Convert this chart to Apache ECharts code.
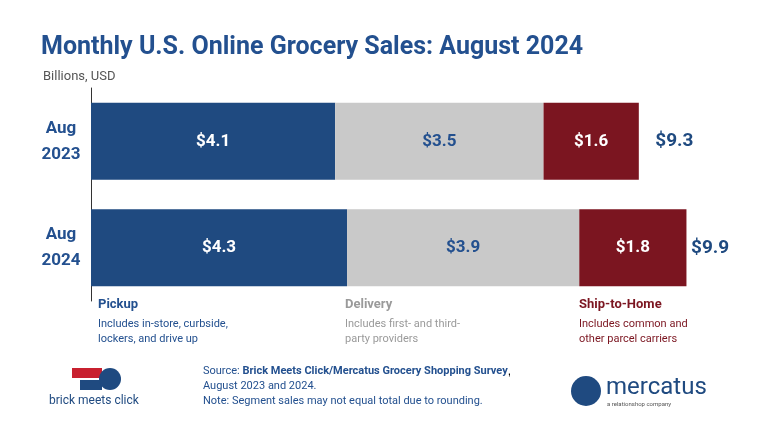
<!DOCTYPE html>
<html><head><meta charset="utf-8">
<script src="https://cdn.jsdelivr.net/npm/echarts@6/dist/echarts.min.js"></script>
<style>html,body{margin:0;padding:0;background:#fff}#c{width:768px;height:432px}</style>
</head><body><div id="c"></div>
<script>
const categories = ['Aug\n2023', 'Aug\n2024'];
const pickup = [4.1, 4.3];
const delivery = [3.5, 3.9];
const shipToHome = [1.6, 1.8];
const totals = [9.3, 9.9];

const BLUE = '#1f4a80', GRAY = '#c9c9c9', RED = '#7b1520', TBLUE = '#23508f';
const F = 'Roboto';
const chart = echarts.init(document.getElementById('c'));
const lbl = (c) => ({show: true, position: 'inside', color: c, fontFamily: F, fontWeight: 'bold', fontSize: 17, formatter: p => '$' + p.value.toFixed(1)});
chart.setOption({
  animation: false,
  textStyle: {fontFamily: F},
  title: [{text: 'Monthly U.S. Online Grocery Sales: August 2024', left: 36, top: 30, textStyle: {color: TBLUE, fontSize: 25, fontWeight: 'bold', fontFamily: F}},
          {text: 'Billions, USD', left: 38, top: 65, textStyle: {color: '#555', fontSize: 13, fontWeight: 'normal', fontFamily: F}}],
  grid: {left: 91, right: 22, top: 88, height: 213},
  xAxis: {type: 'value', min: 0, max: 11, show: false},
  yAxis: {type: 'category', data: categories, inverse: true,
    axisLine: {show: true, lineStyle: {color: '#333', width: 1}}, axisTick: {show: false},
    axisLabel: {color: TBLUE, fontWeight: 'bold', fontSize: 17, fontFamily: F, lineHeight: 26, align: 'center', margin: 30}},
  series: [
    {type: 'bar', stack: 's', data: pickup, barWidth: 77, itemStyle: {color: BLUE}, label: lbl('#fff')},
    {type: 'bar', stack: 's', data: delivery, itemStyle: {color: GRAY}, label: lbl(TBLUE)},
    {type: 'bar', stack: 's', data: shipToHome, itemStyle: {color: RED}, label: lbl('#fff')},
    {type: 'scatter', data: totals, symbolSize: 1, itemStyle: {color: 'rgba(0,0,0,0)', opacity: 1}, label: {show: true, position: 'right', distance: 10, color: '#1f4a80', opacity: 1, fontWeight: 'bold', fontSize: 19, fontFamily: F, formatter: p => '$' + p.value.toFixed(1)}}
  ],
  graphic: [
    {type: 'text', left: 98, top: 298, style: {text: 'Pickup', fill: TBLUE, font: 'bold 13px Roboto'}},
    {type: 'text', left: 98, top: 317, style: {text: 'Includes in-store, curbside,\nlockers, and drive up', fill: TBLUE, font: '11px Roboto', lineHeight: 15}},
    {type: 'text', left: 345, top: 298, style: {text: 'Delivery', fill: '#9a9a9a', font: 'bold 13px Roboto'}},
    {type: 'text', left: 345, top: 317, style: {text: 'Includes first- and third-\nparty providers', fill: '#9a9a9a', font: '11px Roboto', lineHeight: 15}},
    {type: 'text', left: 579, top: 298, style: {text: 'Ship-to-Home', fill: RED, font: 'bold 13px Roboto'}},
    {type: 'text', left: 579, top: 317, style: {text: 'Includes common and\nother parcel carriers', fill: RED, font: '11px Roboto', lineHeight: 15}},
    {type: 'text', left: 203, top: 364, style: {rich: {n: {fill: TBLUE, font: '11px Roboto'}, b: {fill: TBLUE, font: 'bold 11px Roboto'}},
      text: '{n|Source: }{b|Brick Meets Click/Mercatus Grocery Shopping Survey},\n{n|August 2023 and 2024.}\n{n|Note: Segment sales may not equal total due to rounding.}', lineHeight: 15}},
    {type: 'rect', shape: {x: 72, y: 368, width: 30, height: 10}, style: {fill: '#c8202f'}},
    {type: 'rect', shape: {x: 80, y: 380, width: 22, height: 10}, style: {fill: '#1f4a80'}},
    {type: 'circle', shape: {cx: 110, cy: 379, r: 11}, style: {fill: '#1f4a80'}},
    {type: 'text', left: 49, top: 395, style: {text: 'brick meets click', fill: '#1f4a80', font: '12px Roboto'}},
    {type: 'circle', shape: {cx: 586, cy: 391, r: 15}, style: {fill: '#1f4a80'}},
    {type: 'text', left: 606, top: 376, style: {text: 'mercatus', fill: '#1f4a80', font: '24px Roboto'}},
    {type: 'text', left: 607, top: 401, style: {text: 'a relationshop company', fill: '#555', font: '6px Roboto'}}
  ]
});
</script></body></html>
